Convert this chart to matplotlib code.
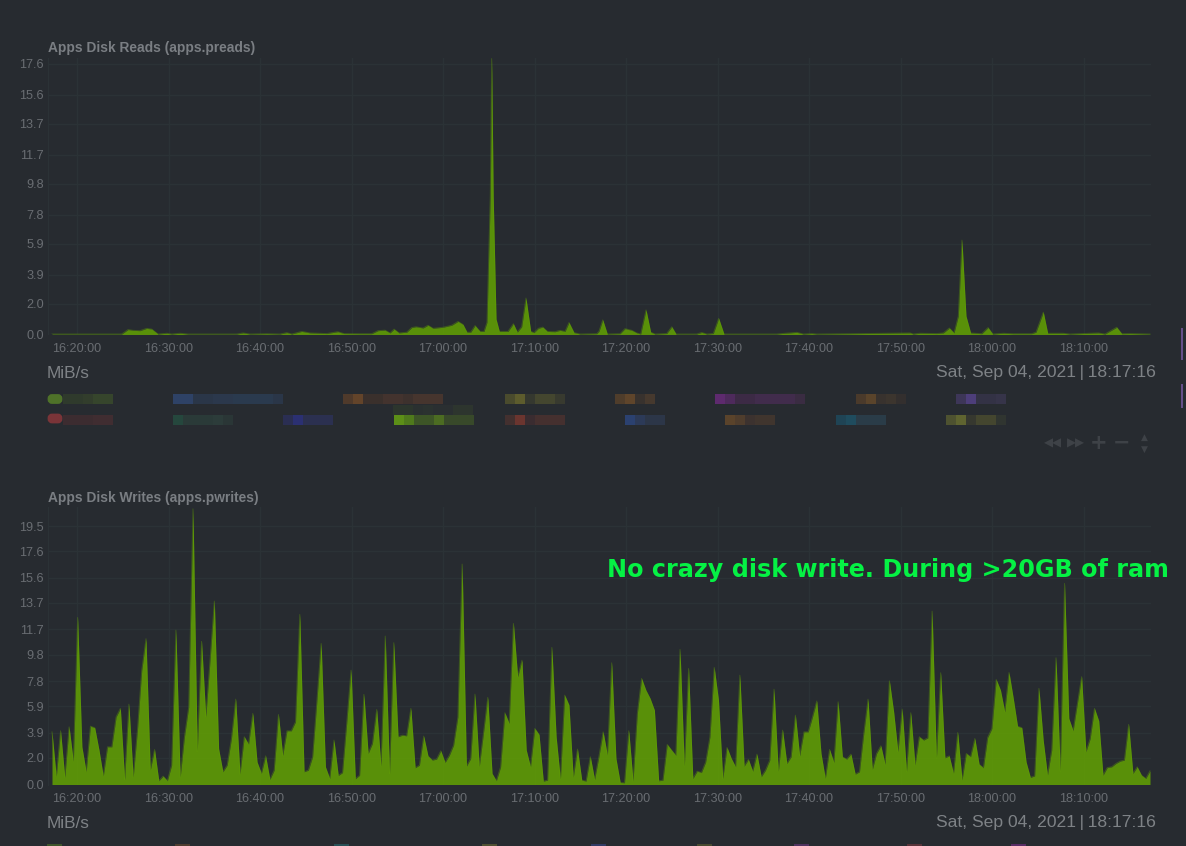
import numpy as np
import matplotlib
matplotlib.use('Agg')
import matplotlib.pyplot as plt
from matplotlib.patches import Rectangle, FancyBboxPatch

# values, 2 hour window from 16:17:16
read_minutes = [0, 5.43, 7.62, 8.31, 8.85, 9.62, 10.35, 10.9, 11.58, 12.54, 13.08, 13.99, 14.86, 17.6, 20.19,
                20.87, 21.64, 23.46, 24.92, 25.65, 26.2, 27.29, 28.2, 30.02, 31.22, 31.91, 33.66, 34.94, 35.63,
                36.39, 36.94, 37.38, 37.92, 38.77, 39.31, 39.78, 40.55, 41.09, 41.64, 42.73, 43.68, 44.37, 44.92,
                45.35, 45.76, 46.23, 46.78, 47.21, 47.54, 47.9, 48.05, 48.22, 48.53, 48.89, 49.84, 50.42, 50.85,
                51.33, 51.8, 52.32, 52.68, 53.15, 53.63, 54.13, 54.97, 55.52, 56.07, 56.5, 57.05, 57.71, 59.53,
                59.78, 60.19, 60.69, 62.08, 62.62, 63.36, 63.9, 64.34, 64.92, 65.43, 65.9, 67.18, 67.73, 68.2,
                70.46, 71.0, 71.55, 72.27, 72.86, 73.44, 79.2, 80.11, 80.66, 81.39, 82.11, 83.03, 83.57, 87.21,
                93.77, 94.13, 94.86, 96.69, 97.41, 98.07, 98.58, 99.05, 99.45, 99.89, 100.4, 101.61, 102.3,
                102.81, 103.97, 105.03, 107.07, 107.54, 108.34, 108.82, 110.49, 111.25, 114.35, 115.08, 116.36,
                116.91, 117.82, 120]
read_values = [.03, .03, .03, .32, .27, .25, .4, .35, .03, .08, .03, .08, .03, .03, .03,
               .1, .03, .05, .03, .12, .03, .2, .1, .06, .18, .06, .05, .05, .25,
               .28, .1, .35, .1, .15, .45, .5, .42, .6, .4, .47, .6, .85, .65,
               .15, .15, .58, .2, .2, .8, 9, 17.95, 9, 1.0, .2, .2, .7, .15,
               .5, 2.37, .2, .12, .4, .48, .2, .18, .27, .2, .78, .12, .03, .05,
               .2, .95, .03, .05, .38, .27, .1, .03, 1.6, .15, .03, .06, .5, .03,
               .03, .13, .03, .06, 1.05, .03, .03, .08, .1, .14, .03, .06, .03, .05,
               .1, .03, .08, .06, .1, .42, .1, 1.2, 6.14, 1.2, .1, .05, .45,
               .03, .08, .05, .05, .15, 1.45, .08, .08, .03, .1, .03, .47,
               .05, .06, .03]

write_values = [3.97, .58, 4.05, .53, 4.35, 1.7, 12.6, 2.84, .96, 4.4, 4.28, 2.6, .63, 2.84, 2.84, 5.1, 5.74, .38,
                6.06, .53, 4.1, 8.6, 11.0, 1.08, 2.64, .28, .63, .28, 1.46, 11.65, .53, 3.6, 5.86, 20.8, 2.47,
                10.8, 5.1, 9.4, 13.84, 2.7, .96, 1.46, 3.47, 6.44, .78, 3.6, 3.04, 5.36, 1.7, .83, 2.16, .38,
                1.08, 5.28, 2.2, 4.05, 4.05, 4.73, 12.83, .96, 1.08, 2.09, 6.3, 10.64, 1.33, .45, 3.35, .68, .9,
                4.7, 8.63, .43, .7, 6.8, 2.34, 3.1, 5.66, 1.38, 11.2, .83, 10.7, 3.6,
                3.72, 3.67, 5.74, 1.26, 1.46, 3.65, 2.16, 1.84, 1.91, 2.54, 1.66, 2.2, 2.97, 5.1, 16.63, 1.38,
                1.96, 6.82, 1.33, 3.9, 6.57, .83, .28, 1.33, 5.41, 4.6, 12.15, 8.13, 9.38, 2.6, 1.33, 4.23, 3.77,
                .25, .33, 10.34, 3.6, .38, 6.74, 6.0, .53, 2.67, .33, .25, 2.09, .38, 2.09, 3.97, 2.2, 9.18, 1.96,
                .15, .13, 4.05, .25, 5.36, 8.0, 7.12, 6.49, 5.61, .28, .33, 3.02, 2.6, 2.2, 10.19, 1.33, 8.75, .45,
                1.0, .9, 1.7, 3.6, 8.83, 6.36, .45, 2.79, 1.96, 1.33, 8.25, 1.38, 1.89, 1.0, 2.29, .58, 1.08, 1.84,
                7.19, .96, 4.1, 1.58, 2.09, 5.23,
                2.16, 3.97, 3.97, 5.1, 6.3, 2.34, .45, 2.64, 1.66, 6.24, 2.09, 1.91, 2.29, .78, .96, 3.85, 6.44,
                1.13, 2.34, 2.92, 1.51, 7.82, 5.48, 2.47, 5.69, .96, 5.41, 1.46, 3.6, 3.35, 3.52, 13.08, 1.96, 8.43,
                2.01, 2.16, .83, 3.92, .33, 2.34, 2.09, 3.47, 1.53, 1.26, 3.55, 4.23, 7.92, 7.12, 5.48, 8.45, 6.49,
                4.4, 4.28, 1.7, .53, .65, 7.25, 3.35, .7, 2.6, 9.56, .96, 15.17, 4.98, 4.05, 6.11, 8.13, 2.47, 3.47,
                5.74, 4.8, .7, 1.28, 1.33, 1.58, 1.76, 1.84, 4.53, .83, 1.33, .7, .45, 1.03]

time_labels = ['16:20:00', '16:30:00', '16:40:00', '16:50:00', '17:00:00', '17:10:00',
               '17:20:00', '17:30:00', '17:40:00', '17:50:00', '18:00:00', '18:10:00']
first_tick = 2.733  # 16:20:00 in minutes after the left edge
read_ticks = ['0.0', '2.0', '3.9', '5.9', '7.8', '9.8', '11.7', '13.7', '15.6', '17.6']
write_ticks = ['0.0', '2.0', '3.9', '5.9', '7.8', '9.8', '11.7', '13.7', '15.6', '17.6', '19.5']

# blurred legend: row, start x, colours of the 10px cells
legend_cells = [
    (0, 62.5, ['#2f3a2c', '#2f3a2c', '#323d2c', '#36452c', '#36452c']),
    (0, 172.5, ['#2e4266', '#2e4266', '#2a3648', '#2a3648', '#2b384c', '#2b384c', '#2a3a4e', '#2a3a4e', '#2a3a4e',
                '#2a3a4e', '#2a3648']),
    (0, 342.5, ['#4f3a2b', '#63442a', '#3a302c', '#3a302c', '#43332e', '#43332e', '#3d312d', '#46352e', '#46352e',
                '#46352e']),
    (0, 504.5, ['#4a4b2d', '#5d5c2d', '#35382f', '#44462f', '#44462f', '#383a2f']),
    (0, 615, ['#4f3d2b', '#5f452b', '#38322e', '#46392e']),
    (0, 715, ['#5e2a6e', '#4e2a5c', '#3c2a45', '#3c2a45', '#412c4c', '#412c4c', '#412c4c', '#412c4c', '#3a2c42']),
    (0, 856, ['#4a3a2b', '#5a442b', '#38322e', '#3c352e', '#332f2e']),
    (0, 956, ['#3d3658', '#4d3e7a', '#333245', '#333245', '#363449']),
    (1, 393, ['#2c352d', '#2c352d', '#2a3030', '#2b3230', '#2a2f31', '#2a2f31', '#2d352e', '#2d352e']),
    (2, 62.5, ['#3c2c30', '#3c2c30', '#3c2c30', '#402d31', '#402d31']),
    (2, 172.5, ['#25473d', '#2a3a38', '#2a3a38', '#2a3a38', '#2c3c3a', '#2a3636']),
    (2, 283, ['#2a2e52', '#2b3072', '#2b3050', '#2b3050', '#2b3050']),
    (2, 393.5, ['#5c8f17', '#4f7a1c', '#3d5527', '#3d5527', '#4c6c22', '#38492a', '#38492a', '#38492a']),
    (2, 504.5, ['#43302f', '#6b352f', '#3a2c30', '#45302f', '#45302f', '#45302f']),
    (2, 625, ['#2b4170', '#2c3a58', '#2c3648', '#2c3648']),
    (2, 725, ['#5a432b', '#4f3d2d', '#3c322f', '#40352e', '#40352e']),
    (2, 836, ['#1f4455', '#1f4c5e', '#2a3c48', '#2a3c48', '#2a3c48']),
    (2, 946, ['#4e5230', '#5f6430', '#36382f', '#44462f', '#44462f', '#303530']),
]
next_legend_x = [47, 175, 334, 482, 591, 697, 794, 907, 1011]
next_legend_colors = ['#4f7229', '#6b4a30', '#2a6a70', '#6a6a35', '#38478a', '#5f5f30', '#6a3a80', '#7a3a40', '#7a2f8a']

BG = '#272b30'
GRID = '#2b3236'
TICK = '#696d72'
LABEL = '#7e8286'
FILL = '#66aa00'
TEXT_FONT = ['Liberation Sans', 'DejaVu Sans']

plt.rcParams['font.family'] = TEXT_FONT
W, H = 1186, 846
fig = plt.figure(figsize=(W / 100, H / 100), dpi=100, facecolor=BG)


def chart(top, bottom, ymax, minutes, values, ticks):
    ax = fig.add_axes([48 / W, 1 - bottom / H, 1103 / W, (bottom - top) / H], facecolor=BG)
    ax.set_xlim(-4 / 9.15, 1099 / 9.15)
    ax.set_ylim(0, ymax)
    ax.fill_between(minutes, values, color=FILL, alpha=0.8, lw=0, zorder=3)
    ax.plot(minutes, values, color=FILL, lw=0.7, alpha=0.35, zorder=4)
    ax.set_xticks([first_tick + 10 * i for i in range(len(time_labels))], time_labels)
    ax.set_yticks([float(t) for t in ticks], ticks)
    ax.tick_params(length=0, labelsize=9.1, labelcolor=TICK, pad=3)
    ax.tick_params(axis='x', pad=6)
    ax.grid(color=GRID, lw=1, zorder=0)
    ax.set_axisbelow(True)
    for name in ['top', 'right', 'bottom']:
        ax.spines[name].set_visible(False)
    ax.spines['left'].set_color(GRID)
    return ax


chart(58, 334.5, 17.99, read_minutes, read_values, read_ticks)
write_minutes = np.linspace(0, 120, len(write_values))
chart(507, 784.5, 20.94, write_minutes, write_values, write_ticks)

# everything outside the plots is placed in pixels
over = fig.add_axes([0, 0, 1, 1], facecolor='none')
over.set_xlim(0, W)
over.set_ylim(H, 0)
over.axis('off')

for y, title in [(48, 'Apps Disk Reads (apps.preads)'), (498, 'Apps Disk Writes (apps.pwrites)')]:
    over.text(48, y, title, color='#7a7e83', fontsize=9.93, fontweight='bold', va='center', ha='left')
for y in [373, 823]:
    over.text(47, y, 'MiB/s', color=LABEL, fontsize=12.4, va='center', ha='left')
    over.text(1156, y, 'Sat, Sep 04, 2021\u2009|\u200918:17:16', color=LABEL, fontsize=12.6, va='center', ha='right')

over.text(607, 570.5, 'No crazy disk write. During >20GB of ram', color='#05f244', fontsize=17.22,
          fontweight='bold', family='DejaVu Sans', va='center', ha='left')

for row, x0, colors in legend_cells:
    y = 394.5 + row * 10.5
    for i, c in enumerate(colors):
        over.add_patch(Rectangle((x0 + i * 10, y), 10, 10, fc=c, ec='none'))
for y, c in [(394.5, '#4f7229'), (414, '#7a3438')]:
    over.add_patch(FancyBboxPatch((49, y + 1), 12, 7, boxstyle='round,pad=0,rounding_size=3',
                                  mutation_aspect=1, fc=c, ec=c, lw=2))

for y0, y1 in [(328, 360), (384, 408)]:
    over.add_patch(Rectangle((1181, y0), 1.6, y1 - y0, fc='#66508a', ec='none'))

for x, glyph in [(1053, '\u25c0\u25c0'), (1076, '\u25b6\u25b6')]:
    over.text(x, 443.5, glyph, color='#3e4247', fontsize=8.5, family='DejaVu Sans', va='center', ha='center')
over.text(1099, 443, '+', color='#3e4247', fontsize=15, fontweight='bold', family='DejaVu Sans', va='center', ha='center')
over.text(1121.5, 443, '\u2212', color='#3e4247', fontsize=15, fontweight='bold', family='DejaVu Sans', va='center', ha='center')
# the up/down arrow pair, kept apart so the two glyphs do not touch
over.text(1144.5, 437.5, '\u25b2', color='#3e4247', fontsize=6.5, family='DejaVu Sans', va='center', ha='center')
over.text(1144.5, 449, '\u25bc', color='#3e4247', fontsize=6.5, family='DejaVu Sans', va='center', ha='center')

for x, c in zip(next_legend_x, next_legend_colors):
    over.add_patch(Rectangle((x, 844.5), 15, 2, fc=c, ec='none', alpha=0.6))

fig.savefig('out.png', dpi=100, facecolor=BG)
